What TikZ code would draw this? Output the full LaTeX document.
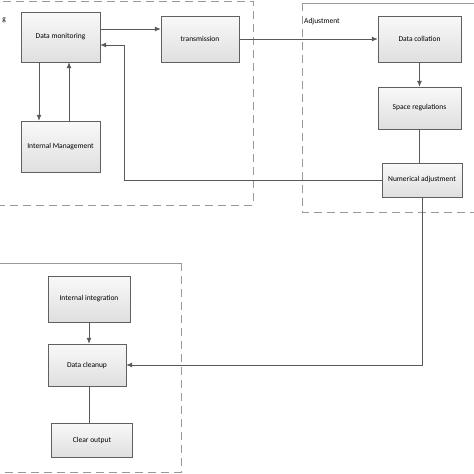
\documentclass[tikz,border=0pt]{standalone}
\usepackage{fontspec}
\setmainfont{Carlito}
\usetikzlibrary{arrows.meta,positioning}

\begin{document}
\begin{tikzpicture}[x=1pt, y=-1pt,
    box/.style={draw=gray!75!black, top color=gray!5, bottom color=gray!25, font=\fontsize{7.5}{9}\selectfont, inner sep=1pt},
    link/.style={gray!70!black, line width=0.85pt},
    arr/.style={link, -{Latex[length=6pt,width=5pt]}},
    group/.style={gray!80, line width=0.7pt, dash pattern=on 8pt off 5pt}]
    \useasboundingbox (0,0) rectangle (474,474);
    % groups
    \draw[group] (-10,1) -- (253,1) -- (253,205) -- (-10,205);
    \draw[gray!80, line width=0.7pt] (480,3) -- (302,3);
    \draw[group] (302,3) -- (302,212) -- (480,212);
    \draw[gray!80, line width=0.7pt] (-10,263) -- (181,263);
    \draw[group] (181,263) -- (181,472) -- (-10,472);
    \node[font=\fontsize{7.5}{9}\selectfont, anchor=east, inner sep=0pt] (lab1) at (6,20) {g};
    \node[font=\fontsize{7.5}{9}\selectfont, anchor=west, inner sep=0pt] (lab2) at (304,22) {Adjustment};
    % monitoring
    \node[box, minimum width=79pt, minimum height=50pt] (dm) at (60.5,37) {Data monitoring};
    \node[box, minimum width=78pt, minimum height=46pt] (trans) at (200,39) {transmission};
    \node[box, minimum width=79pt, minimum height=51pt] (im) at (60.5,146.5) {Internal Management};
    % adjustment
    \node[box, minimum width=83pt, minimum height=46pt] (dc) at (419.5,39) {Data collation};
    \node[box, minimum width=83pt, minimum height=42pt] (sr) at (419.5,108) {Space regulations};
    \node[box, minimum width=80pt, minimum height=34pt] (na) at (422,180) {Numerical adjustment};
    % output
    \node[box, minimum width=82pt, minimum height=46pt] (ii) at (89,299) {Internal integration};
    \node[box, minimum width=78pt, minimum height=42pt] (dcl) at (87,365) {Data cleanup};
    \node[box, minimum width=81pt, minimum height=34pt] (co) at (92,440) {Clear output};
    \coordinate (fb) at (124,45);
    \draw[arr] ([yshift=8pt]dm.east) -- ([yshift=8pt]dm.east -| trans.west);
    \draw[arr] (trans.east) -- (dc.west);
    \draw[arr] (na.west) -| (fb) -- ([yshift=-8pt]dm.east);
    \draw[arr] ([xshift=-21.5pt]dm.south) -- ([xshift=-21.5pt]im.north);
    \draw[arr] ([xshift=8.5pt]im.north) -- ([xshift=8.5pt]dm.south);
    \draw[arr] (dc) -- (sr);
    \draw[link] (sr.south) -- (sr.south |- na.north);
    \draw[arr] (na.south) |- (dcl.east);
    \draw[arr] (ii.south) -- (ii.south |- dcl.north);
    \draw[link] (dcl.south -| ii.south) -- (ii.south |- co.north);
\end{tikzpicture}
\end{document}
